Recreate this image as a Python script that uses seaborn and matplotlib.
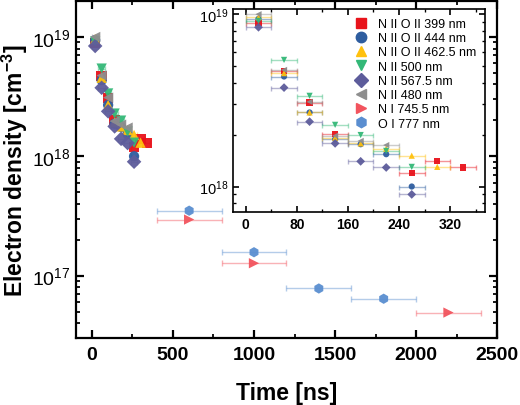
import numpy as np
import pandas as pd
import seaborn as sns
import matplotlib
import matplotlib.pyplot as plt
from matplotlib.lines import Line2D
from matplotlib.ticker import LogLocator, MultipleLocator, NullFormatter

matplotlib.use("Agg")

sns.set_theme(style="ticks")
plt.rcParams["font.family"] = ["Liberation Sans", "DejaVu Sans"]
plt.rcParams["mathtext.fontset"] = "custom"
plt.rcParams["mathtext.rm"] = "Liberation Sans"
plt.rcParams["mathtext.bf"] = "Liberation Sans:bold"
plt.rcParams["mathtext.default"] = "bf"
plt.rcParams["text.color"] = "black"
plt.rcParams["axes.labelcolor"] = "black"
plt.rcParams["xtick.color"] = "black"
plt.rcParams["ytick.color"] = "black"

# ---------------- data ----------------
series_names = [
    "N II O II 399 nm",
    "N II O II 444 nm",
    "N II O II 462.5 nm",
    "N II 500 nm",
    "N II 567.5 nm",
    "N II 480 nm",
    "N I 745.5 nm",
    "O I 777 nm",
]

t_399 = [20, 60, 100, 140, 260, 300, 340]
n_399 = [8.9e18, 4.7e18, 3.07e18, 2.01e18, 1.2e18, 1.40e18, 1.29e18]

t_444 = [20, 60, 100, 140, 180, 220, 260]
n_444 = [9.4e18, 4.35e18, 2.69e18, 1.88e18, 1.76e18, 1.54e18, 1.0e18]

t_462 = [20, 60, 100, 140, 180, 220, 260, 300]
n_462 = [9.6e18, 4.55e18, 2.69e18, 1.92e18, 1.78e18, 1.66e18, 1.51e18, 1.30e18]

t_500 = [20, 60, 100, 140, 180, 220, 260]
n_500 = [9.15e18, 5.43e18, 3.36e18, 2.28e18, 1.99e18, 1.61e18, 1.30e18]

t_567 = [20, 60, 100, 140, 180, 220, 260]
n_567 = [8.4e18, 3.75e18, 2.38e18, 1.78e18, 1.40e18, 1.29e18, 0.90e18]

t_480 = [20, 60, 100, 140, 180, 220]
n_480 = [1.0e19, 4.75e18, 3.1e18, 1.97e18, 1.84e18, 1.74e18]

t_745 = [600, 1000, 2200]
n_745 = [2.95e17, 1.27e17, 4.9e16]

t_777 = [600, 1000, 1400, 1800]
n_777 = [3.5e17, 1.57e17, 7.8e16, 6.4e16]

xerr_early = 20
xerr_late = 200

times = [t_399, t_444, t_462, t_500, t_567, t_480, t_745, t_777]
dens = [n_399, n_444, n_462, n_500, n_567, n_480, n_745, n_777]
xerrs = [xerr_early] * 6 + [xerr_late] * 2

colors = ["#E8131B", "#2E5D9F", "#FFC10E", "#33B877",
          "#5D5C9B", "#8E8E8E", "#F2545E", "#5A8ED0"]
markers = ["s", "o", "^", "v", "D", "<", ">", "h"]

df = pd.concat(
    [pd.DataFrame({"series": s, "time": t, "density": n, "xerr": e})
     for s, t, n, e in zip(series_names, times, dens, xerrs)],
    ignore_index=True,
)

palette = dict(zip(series_names, colors))
marker_map = dict(zip(series_names, markers))


def draw(ax, size, capsize):
    for name in series_names:
        sub = df[df["series"] == name]
        ax.errorbar(sub["time"], sub["density"], xerr=sub["xerr"], fmt="none",
                    ecolor=palette[name], alpha=0.45, elinewidth=1.0,
                    capsize=capsize, capthick=1.0, zorder=1)
    sns.scatterplot(data=df, x="time", y="density", hue="series", style="series",
                    palette=palette, markers=marker_map, hue_order=series_names,
                    style_order=series_names, s=size, linewidth=0, alpha=0.95,
                    legend=False, ax=ax, zorder=3)


def style_axes(ax, major_len, minor_len, lw):
    ax.set_yscale("log")
    for sp in ax.spines.values():
        sp.set_linewidth(lw)
        sp.set_color("black")
    ax.tick_params(which="both", direction="in", top=True, right=True, colors="black")
    ax.tick_params(which="major", length=major_len, width=lw)
    ax.tick_params(which="minor", length=minor_len, width=lw * 0.8)
    ax.yaxis.set_major_locator(LogLocator(base=10, numticks=10))
    ax.yaxis.set_minor_locator(LogLocator(base=10, subs=np.arange(2, 10), numticks=20))
    ax.yaxis.set_minor_formatter(NullFormatter())
    ax.set_xlabel("")
    ax.set_ylabel("")


fig = plt.figure(figsize=(5.2, 4.06), dpi=100)

# ---------------- main axes ----------------
ax = fig.add_axes([0.1456, 0.165, 0.8104, 0.830])
draw(ax, 55, 2.5)
style_axes(ax, 6, 3, 1.6)
ax.set_xlim(-100, 2500)
ax.set_ylim(3e16, 2e19)
ax.xaxis.set_major_locator(MultipleLocator(500))
ax.xaxis.set_minor_locator(MultipleLocator(250))
ax.tick_params(which="major", labelsize=14)
for lab in ax.get_xticklabels():
    lab.set_fontweight("bold")
ax.set_xlabel("Time [ns]", fontsize=16.5, fontweight="bold", labelpad=13)
ax.set_ylabel(r"Electron density [cm$^{-3}$]", fontsize=16.5, fontweight="bold", labelpad=2)
ax.tick_params(axis="x", pad=6)

# ---------------- inset ----------------
axin = fig.add_axes([0.448, 0.475, 0.485, 0.500])
draw(axin, 20, 1.8)
style_axes(axin, 4, 2, 1.2)
axin.set_xlim(-20, 375)
axin.set_ylim(7.1e17, 1.07e19)
axin.xaxis.set_major_locator(MultipleLocator(80))
axin.xaxis.set_minor_locator(MultipleLocator(40))
axin.tick_params(axis="x", which="major", labelsize=10)
axin.tick_params(axis="y", which="major", labelsize=10.5)
for lab in axin.get_xticklabels():
    lab.set_fontweight("bold")

handles = [Line2D([0], [0], marker=m, color=c, linestyle="none", markersize=7.5)
           for m, c in zip(markers, colors)]
axin.legend(handles, series_names, loc="upper right", frameon=False, fontsize=9,
            handletextpad=0.8, labelspacing=0.18, borderaxespad=0.3,
            handlelength=1.2, bbox_to_anchor=(1.0, 1.0))

fig.savefig("out.png", dpi=100)
